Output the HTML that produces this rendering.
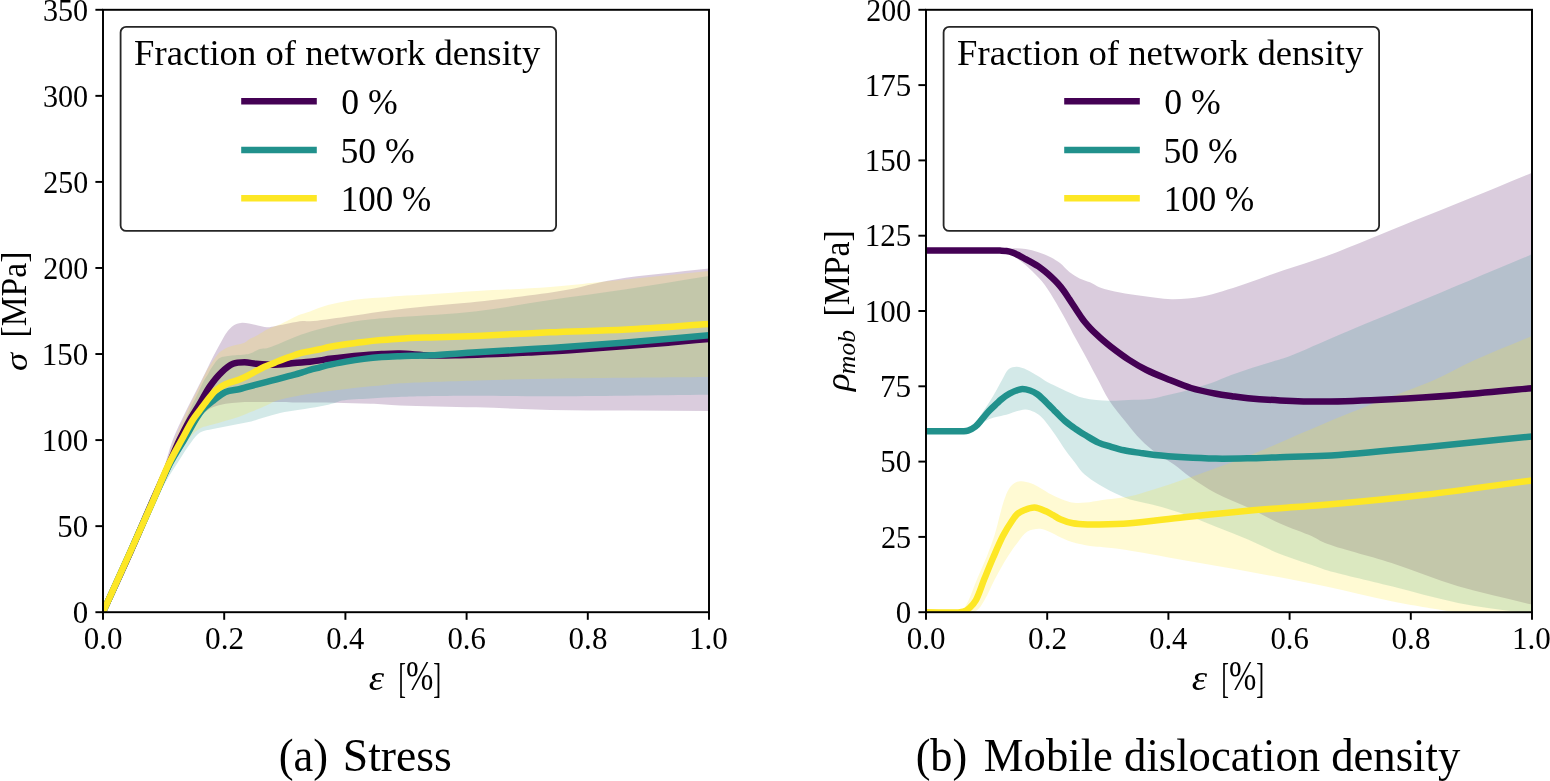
<!DOCTYPE html>
<html><head><meta charset="utf-8"><title>Stress and mobile dislocation density</title>
<style>html,body{margin:0;padding:0;background:#fff;width:1550px;height:781px;overflow:hidden}svg{display:block}</style>
</head><body>
<svg width="1550" height="781" viewBox="0 0 1550 781">
<rect width="100%" height="100%" fill="#fff"/>
<clipPath id="clip103"><rect x="103.00" y="9.60" width="606.00" height="602.60"/></clipPath>
<g clip-path="url(#clip103)">
<path d="M103.00,612.20 C111.33,592.80 119.93,572.76 128.00,554.00 C135.56,536.44 143.82,517.64 150.00,503.00 C154.65,492.00 158.32,484.14 162.00,474.00 C165.93,463.20 168.65,450.57 172.70,440.00 C176.40,430.36 180.87,421.60 185.00,413.00 C188.84,404.99 192.95,397.25 196.60,390.00 C199.87,383.50 202.92,377.49 205.90,371.50 C208.70,365.87 211.33,360.26 214.00,355.10 C216.43,350.41 218.84,345.93 221.20,341.80 C223.30,338.12 225.15,334.37 227.40,331.50 C229.30,329.07 231.17,326.84 233.50,325.40 C235.73,324.02 238.43,323.22 241.00,322.90 C243.59,322.58 246.28,323.09 249.00,323.50 C251.90,323.93 254.92,324.87 257.90,325.50 C260.89,326.13 263.89,327.22 266.90,327.30 C269.89,327.38 272.61,326.57 275.90,326.00 C279.93,325.30 284.83,324.12 289.30,323.30 C293.76,322.48 298.90,321.36 302.70,321.10 C305.49,320.91 306.65,321.46 310.00,321.30 C317.45,320.94 333.95,318.45 345.90,316.80 C357.85,315.15 368.86,313.09 381.70,311.40 C396.58,309.45 414.02,307.63 430.00,306.00 C445.72,304.40 458.99,303.65 476.80,301.70 C500.59,299.09 535.17,295.30 560.00,291.10 C580.39,287.65 594.36,282.83 615.30,279.40 C642.35,274.97 677.77,272.13 709.00,268.50 L709.00,411.10 C682.67,410.90 656.42,410.68 630.00,410.50 C603.42,410.32 576.07,410.56 550.00,410.00 C525.05,409.46 501.50,408.06 476.80,407.30 C451.51,406.52 419.63,406.17 400.00,405.40 C387.79,404.92 380.63,404.24 370.30,403.80 C359.04,403.32 346.74,402.92 335.00,402.70 C323.31,402.48 310.85,402.63 300.00,402.50 C290.58,402.38 280.22,402.06 273.60,402.00 C269.61,401.96 267.43,402.00 264.00,402.00 C260.04,402.00 255.47,401.93 251.20,402.00 C246.93,402.07 242.66,402.10 238.40,402.40 C234.13,402.70 229.84,402.99 225.60,403.80 C221.30,404.62 216.26,405.83 212.80,407.30 C210.21,408.40 208.56,409.37 206.40,411.10 C203.64,413.31 200.84,416.07 198.00,420.00 C193.76,425.86 189.41,436.21 185.00,444.00 C180.74,451.53 176.43,457.65 172.00,466.00 C166.48,476.42 161.21,488.84 155.00,502.00 C147.47,517.96 138.49,537.00 130.00,555.00 C121.17,573.70 112.00,593.13 103.00,612.20 Z" fill="#440154" fill-opacity="0.2" stroke="none"/>
<path d="M103.00,612.20 C111.33,592.80 119.93,572.76 128.00,554.00 C135.56,536.44 143.62,517.76 150.00,503.00 C154.89,491.68 158.67,483.00 163.00,473.00 C167.33,463.00 171.79,452.93 176.00,443.00 C180.12,433.27 184.02,422.95 188.00,414.00 C191.51,406.11 195.56,398.15 198.50,392.00 C200.63,387.55 202.21,383.76 204.00,380.50 C205.40,377.95 206.93,375.92 208.10,373.90 C209.06,372.24 209.68,370.81 210.60,369.30 C211.54,367.74 212.70,366.13 213.70,364.70 C214.59,363.42 215.40,362.16 216.30,361.10 C217.11,360.15 217.86,359.28 218.80,358.60 C219.73,357.92 220.65,357.41 221.90,357.00 C223.56,356.45 225.84,356.29 228.00,356.00 C230.41,355.68 233.01,355.44 235.70,355.20 C238.65,354.94 242.39,354.86 245.00,354.50 C246.93,354.24 248.09,354.12 250.00,353.50 C252.79,352.60 256.82,349.85 259.90,349.00 C262.38,348.31 264.45,348.76 266.90,348.20 C269.77,347.54 273.54,345.92 276.00,345.00 C277.71,344.36 278.47,344.05 280.30,343.30 C283.55,341.96 289.06,339.35 293.80,337.50 C298.92,335.50 303.69,333.71 310.00,331.80 C318.56,329.21 330.77,326.04 340.70,324.00 C349.89,322.12 358.11,320.92 367.50,319.80 C377.79,318.57 386.87,318.14 400.00,317.10 C420.18,315.50 451.56,314.20 476.80,311.30 C501.55,308.46 525.34,303.65 550.00,300.00 C575.13,296.28 600.29,293.09 626.20,289.20 C653.24,285.14 681.40,280.47 709.00,276.10 L709.00,394.80 C656.00,395.30 592.85,396.24 550.00,396.30 C520.93,396.34 499.65,395.78 476.80,395.80 C456.67,395.82 434.38,396.00 420.00,396.30 C411.19,396.48 406.31,396.69 398.70,397.00 C389.91,397.36 379.75,397.82 370.30,398.40 C360.85,398.98 348.27,399.24 342.00,400.50 C338.76,401.15 337.62,402.10 334.80,402.90 C330.90,404.00 325.90,405.17 320.70,406.20 C314.35,407.46 306.33,408.54 299.40,409.70 C292.78,410.81 286.12,411.62 280.00,413.00 C274.37,414.27 269.03,416.03 264.00,417.50 C259.49,418.82 255.49,420.33 251.20,421.40 C246.96,422.46 242.67,423.05 238.40,423.90 C234.13,424.75 229.87,425.65 225.60,426.50 C221.33,427.35 217.05,427.99 212.80,429.00 C208.51,430.02 203.61,430.37 200.00,432.60 C196.42,434.82 194.25,438.38 191.20,442.30 C187.15,447.50 182.62,454.96 178.40,461.50 C174.08,468.19 169.35,475.30 165.60,482.00 C162.17,488.11 160.33,492.28 156.60,500.00 C150.01,513.64 138.99,538.19 130.00,557.00 C121.12,575.59 112.00,593.80 103.00,612.20 Z" fill="#21918c" fill-opacity="0.2" stroke="none"/>
<path d="M103.00,612.20 C111.33,592.80 119.91,572.70 128.00,554.00 C135.54,536.56 143.65,518.23 150.00,503.50 C154.93,492.07 159.02,483.36 163.00,473.00 C167.02,462.53 170.05,451.24 174.00,441.00 C177.75,431.28 181.91,421.82 186.00,413.00 C189.76,404.90 194.39,396.36 197.50,390.00 C199.69,385.52 201.19,382.21 203.00,378.50 C204.72,374.99 206.55,371.00 208.10,368.30 C209.17,366.43 210.09,365.23 211.10,363.70 C212.12,362.16 213.20,360.53 214.20,359.10 C215.09,357.82 215.93,356.64 216.80,355.50 C217.63,354.42 218.32,353.32 219.30,352.40 C220.33,351.44 221.57,350.70 222.90,349.90 C224.42,348.99 226.09,348.07 228.00,347.30 C230.27,346.39 233.01,345.78 235.70,345.00 C238.65,344.15 242.63,343.57 245.00,342.40 C246.71,341.56 247.35,340.42 249.00,339.40 C251.33,337.97 254.96,336.61 257.90,335.00 C260.93,333.35 264.03,331.08 266.90,329.60 C269.36,328.33 271.69,327.42 274.00,326.50 C276.15,325.64 278.04,325.17 280.30,324.20 C283.06,323.01 286.30,321.20 289.30,319.70 C292.30,318.20 295.05,316.53 298.30,315.20 C301.89,313.73 305.70,312.86 310.00,311.40 C315.34,309.59 321.87,306.81 327.90,305.10 C333.84,303.42 339.89,302.25 345.90,301.20 C351.85,300.16 357.82,299.40 363.80,298.80 C369.76,298.20 375.73,298.05 381.70,297.60 C387.69,297.15 392.92,296.58 399.70,296.10 C408.49,295.47 418.81,295.02 430.00,294.30 C443.91,293.41 459.46,292.18 476.80,291.10 C498.48,289.75 528.77,288.64 550.00,287.00 C566.39,285.73 578.05,284.24 593.50,282.70 C611.10,280.94 630.96,278.91 650.00,277.00 C669.45,275.05 689.33,273.07 709.00,271.10 L709.00,377.00 C659.33,377.50 602.48,377.80 560.00,378.50 C528.25,379.02 503.98,379.58 476.80,380.40 C450.68,381.19 415.86,382.18 400.00,383.30 C392.86,383.80 390.44,384.30 384.50,384.90 C376.46,385.71 365.55,386.63 356.10,387.70 C346.65,388.77 337.24,390.00 327.80,391.30 C318.34,392.60 308.45,393.77 299.40,395.50 C290.98,397.11 280.12,399.51 275.20,401.20 C272.93,401.98 272.11,402.58 270.40,403.40 C268.41,404.35 266.53,405.46 264.00,406.60 C260.49,408.19 255.47,410.08 251.20,411.80 C246.94,413.52 242.70,415.41 238.40,416.90 C234.17,418.37 229.86,419.42 225.60,420.70 C221.33,421.98 217.07,423.32 212.80,424.60 C208.54,425.88 203.69,426.40 200.00,428.40 C196.57,430.26 193.96,432.86 191.20,435.90 C188.00,439.43 185.13,444.56 182.30,448.70 C179.65,452.57 177.22,455.84 174.70,460.00 C171.78,464.81 168.94,470.01 166.00,476.00 C162.40,483.34 159.45,491.06 155.00,501.00 C148.39,515.78 138.59,537.61 130.00,556.00 C121.27,574.68 112.00,593.47 103.00,612.20 Z" fill="#fde725" fill-opacity="0.2" stroke="none"/>
<path d="M103.00,612.20 C112.00,592.47 121.44,572.23 130.00,553.00 C138.06,534.88 146.11,515.63 153.00,500.00 C158.49,487.54 163.42,476.92 168.00,466.50 C171.98,457.44 175.23,449.03 179.00,441.00 C182.48,433.60 186.12,426.34 189.70,420.00 C192.79,414.51 195.81,410.31 199.00,405.00 C202.55,399.09 206.04,391.76 210.00,386.10 C213.59,380.97 217.42,376.15 221.50,372.30 C225.14,368.87 228.93,365.44 233.00,363.80 C236.68,362.32 240.74,362.30 244.60,362.30 C248.44,362.30 252.26,363.42 256.10,363.80 C259.93,364.18 263.76,364.47 267.60,364.60 C271.43,364.73 274.99,364.81 279.10,364.60 C283.87,364.35 289.36,363.48 294.50,363.00 C299.63,362.52 305.31,362.19 309.90,361.70 C313.63,361.30 316.65,360.88 320.00,360.40 C323.35,359.92 326.28,359.32 330.00,358.80 C334.68,358.15 340.44,357.47 345.90,356.90 C351.69,356.30 357.83,355.77 363.80,355.30 C369.76,354.83 375.72,354.38 381.70,354.10 C387.69,353.82 392.93,353.49 399.70,353.60 C408.50,353.74 419.92,355.13 430.00,355.40 C440.02,355.66 449.49,355.39 460.00,355.20 C471.64,354.99 484.85,354.57 496.80,354.10 C508.15,353.66 518.42,353.11 530.00,352.50 C542.71,351.83 555.54,351.16 570.00,350.20 C587.15,349.07 608.63,347.36 626.20,346.00 C641.71,344.80 655.83,343.72 670.00,342.50 C683.38,341.35 696.00,340.10 709.00,338.90" fill="none" stroke="#440154" stroke-width="6.50" stroke-linejoin="round" stroke-linecap="butt"/>
<path d="M103.00,612.20 C112.00,592.30 121.35,571.77 130.00,552.50 C138.10,534.45 146.24,515.90 153.40,500.00 C159.38,486.72 164.40,474.20 170.00,463.50 C174.62,454.66 179.03,448.27 184.00,440.00 C189.58,430.71 196.06,417.39 201.90,410.50 C205.76,405.95 209.35,403.78 213.30,400.70 C217.25,397.61 221.12,393.95 225.60,392.00 C230.03,390.07 235.08,390.18 240.00,389.00 C245.24,387.74 250.79,386.00 256.10,384.60 C261.28,383.24 266.38,382.03 271.50,380.70 C276.61,379.37 282.40,377.74 286.80,376.60 C290.13,375.74 292.89,375.15 295.60,374.40 C297.97,373.75 299.91,373.11 302.20,372.40 C304.69,371.62 307.22,370.69 310.00,369.90 C313.11,369.01 316.87,368.23 320.00,367.40 C322.79,366.66 324.72,365.96 327.90,365.20 C332.67,364.06 339.90,362.65 345.90,361.60 C351.86,360.55 357.82,359.65 363.80,358.90 C369.76,358.15 375.72,357.55 381.70,357.10 C387.69,356.65 392.92,356.47 399.70,356.20 C408.49,355.85 418.81,355.84 430.00,355.30 C443.92,354.63 459.46,353.27 476.80,352.20 C498.48,350.86 525.36,349.60 550.00,348.00 C575.15,346.37 600.28,344.58 626.20,342.50 C653.24,340.33 681.40,337.63 709.00,335.20" fill="none" stroke="#21918c" stroke-width="6.50" stroke-linejoin="round" stroke-linecap="butt"/>
<path d="M103.00,612.20 C112.00,592.30 121.35,571.77 130.00,552.50 C138.10,534.45 146.47,515.88 153.40,500.00 C159.12,486.90 163.67,474.69 168.80,464.00 C173.07,455.09 177.45,447.62 181.60,440.00 C185.40,433.01 189.29,425.36 192.70,420.00 C195.15,416.16 197.26,413.68 199.60,410.50 C201.99,407.25 204.79,403.42 206.90,400.70 C208.44,398.71 209.57,397.28 211.00,395.60 C212.47,393.88 213.63,392.15 215.60,390.50 C218.18,388.34 221.85,386.08 225.60,384.30 C229.86,382.27 235.14,381.36 240.00,379.30 C245.29,377.06 251.69,373.48 256.10,371.20 C259.21,369.59 261.36,368.20 264.00,367.00 C266.50,365.86 269.10,365.10 271.50,364.10 C273.76,363.16 275.65,362.16 278.00,361.20 C280.70,360.09 283.91,358.95 286.80,357.90 C289.58,356.89 292.35,355.89 295.00,355.00 C297.47,354.17 299.24,353.46 302.20,352.70 C306.79,351.52 315.26,350.23 320.00,349.20 C323.17,348.51 324.72,347.96 327.90,347.30 C332.67,346.32 339.90,345.10 345.90,344.20 C351.87,343.30 357.83,342.58 363.80,341.90 C369.76,341.22 375.72,340.63 381.70,340.10 C387.69,339.57 392.92,339.11 399.70,338.70 C408.49,338.17 418.81,337.82 430.00,337.40 C443.91,336.88 459.47,336.60 476.80,335.90 C498.49,335.02 525.35,333.36 550.00,332.30 C575.14,331.22 600.28,330.84 626.20,329.50 C653.24,328.11 681.40,325.83 709.00,324.00" fill="none" stroke="#fde725" stroke-width="6.50" stroke-linejoin="round" stroke-linecap="butt"/>
</g>
<clipPath id="clip926"><rect x="926.00" y="9.60" width="606.00" height="602.60"/></clipPath>
<g clip-path="url(#clip926)">
<path d="M926.00,250.60 C952.67,250.60 994.03,252.49 1006.00,250.60 C1009.58,250.04 1010.14,248.76 1012.80,248.40 C1016.36,247.92 1021.36,248.38 1025.60,249.00 C1029.90,249.63 1034.18,250.82 1038.40,252.20 C1042.72,253.61 1047.41,255.43 1051.20,257.40 C1054.50,259.12 1057.12,260.84 1060.00,263.10 C1063.20,265.62 1066.07,269.42 1069.40,272.00 C1072.61,274.49 1076.09,276.66 1079.60,278.40 C1082.97,280.07 1086.61,280.79 1090.00,282.30 C1093.41,283.82 1095.99,285.98 1100.00,287.50 C1105.43,289.56 1113.22,291.12 1120.00,292.50 C1126.88,293.90 1133.32,294.77 1141.00,295.80 C1150.25,297.04 1161.46,299.08 1171.70,299.20 C1181.93,299.32 1191.54,298.55 1202.40,296.50 C1215.19,294.09 1229.80,288.90 1243.40,284.50 C1257.10,280.07 1270.63,274.67 1284.30,270.00 C1297.93,265.34 1311.41,261.53 1325.30,256.50 C1339.96,251.19 1355.14,244.80 1370.00,238.80 C1384.87,232.80 1398.83,226.87 1414.50,220.50 C1431.97,213.40 1451.00,205.92 1470.00,198.20 C1490.11,190.02 1511.33,181.20 1532.00,172.70 L1532.00,604.60 C1507.37,598.50 1481.92,593.41 1458.10,586.30 C1435.18,579.46 1413.86,570.24 1391.60,563.00 C1369.49,555.81 1338.46,548.43 1325.00,543.00 C1318.83,540.51 1317.36,538.75 1312.00,536.30 C1303.76,532.54 1290.57,528.23 1280.00,523.50 C1269.24,518.68 1258.72,512.67 1248.00,507.60 C1237.38,502.57 1225.91,498.49 1216.00,493.20 C1206.81,488.29 1197.87,482.41 1190.40,477.20 C1184.21,472.88 1179.72,468.56 1174.00,464.50 C1168.10,460.31 1161.15,456.75 1155.50,452.50 C1150.25,448.55 1145.85,444.81 1141.10,440.00 C1135.67,434.50 1130.28,427.57 1125.00,421.00 C1119.55,414.22 1113.69,407.30 1108.90,399.90 C1104.12,392.50 1100.46,384.36 1096.30,376.60 C1092.16,368.89 1087.92,360.70 1084.00,353.50 C1080.52,347.11 1076.81,340.71 1074.00,335.50 C1071.87,331.55 1070.39,328.53 1068.50,325.00 C1066.56,321.37 1064.52,317.61 1062.50,314.00 C1060.52,310.45 1058.52,306.95 1056.50,303.50 C1054.52,300.12 1052.51,296.67 1050.50,293.50 C1048.61,290.53 1046.84,287.68 1044.80,285.00 C1042.80,282.38 1040.57,279.97 1038.40,277.60 C1036.30,275.31 1034.16,273.12 1032.00,271.00 C1029.89,268.93 1027.78,266.86 1025.60,265.00 C1023.51,263.21 1021.37,261.55 1019.20,260.00 C1017.10,258.49 1014.94,257.32 1012.80,255.80 C1010.54,254.20 1009.86,251.91 1006.00,250.60 C994.21,246.61 952.67,250.60 926.00,250.60 Z" fill="#440154" fill-opacity="0.2" stroke="none"/>
<path d="M926.00,431.20 C938.00,431.20 953.85,432.00 962.00,431.20 C966.25,430.78 968.79,431.22 971.60,429.30 C975.27,426.79 977.69,419.65 980.60,415.20 C983.24,411.16 985.78,407.67 988.30,403.70 C990.92,399.58 993.59,395.08 996.00,390.90 C998.27,386.96 1000.21,383.01 1002.40,379.30 C1004.48,375.76 1006.11,371.15 1008.80,369.10 C1011.00,367.43 1013.75,366.82 1016.50,366.80 C1019.66,366.78 1023.37,368.31 1026.70,369.70 C1030.21,371.16 1033.60,373.48 1037.00,375.50 C1040.43,377.54 1043.98,380.11 1047.20,381.90 C1049.93,383.42 1052.19,384.34 1055.00,385.70 C1058.31,387.30 1061.71,389.10 1065.80,390.90 C1071.00,393.19 1077.18,396.45 1083.80,398.10 C1091.36,399.98 1101.03,400.56 1108.90,400.80 C1115.86,401.01 1121.90,400.19 1128.60,399.90 C1135.59,399.59 1143.21,399.89 1150.00,399.00 C1156.30,398.17 1162.02,396.39 1168.00,395.00 C1173.96,393.62 1179.36,392.45 1185.80,390.70 C1193.59,388.59 1203.40,385.80 1211.40,383.00 C1218.67,380.46 1225.04,377.36 1231.90,374.80 C1238.70,372.26 1245.54,369.92 1252.40,367.70 C1259.21,365.49 1266.38,363.53 1272.90,361.50 C1278.87,359.64 1282.88,358.66 1290.00,356.00 C1302.38,351.37 1321.66,342.34 1340.00,334.60 C1362.34,325.17 1386.86,315.15 1414.50,303.60 C1449.23,289.09 1492.83,270.73 1532.00,254.30 L1532.00,614.00 C1507.37,610.30 1481.97,607.66 1458.10,602.90 C1435.24,598.34 1413.78,591.83 1391.60,586.30 C1369.41,580.76 1338.55,573.77 1325.00,569.70 C1318.93,567.87 1317.30,566.96 1312.00,565.10 C1303.70,562.19 1290.57,558.22 1280.00,554.00 C1269.23,549.70 1258.72,544.07 1248.00,539.50 C1237.38,534.97 1226.67,530.95 1216.00,526.70 C1205.34,522.45 1194.75,517.74 1184.00,514.00 C1173.41,510.32 1161.71,506.96 1152.00,504.40 C1144.02,502.30 1136.60,501.50 1130.00,499.40 C1124.33,497.59 1120.02,495.63 1114.60,493.00 C1108.17,489.87 1099.91,485.38 1094.10,481.50 C1089.40,478.36 1085.37,475.45 1082.00,472.00 C1078.96,468.89 1077.09,465.40 1074.50,462.00 C1071.77,458.41 1068.53,454.53 1066.00,451.00 C1063.77,447.89 1061.90,444.88 1060.00,442.00 C1058.25,439.36 1056.81,437.02 1055.00,434.40 C1053.00,431.51 1050.71,428.25 1048.50,425.40 C1046.40,422.70 1044.48,419.95 1042.10,417.70 C1039.77,415.50 1037.20,413.39 1034.40,412.00 C1031.63,410.63 1028.41,409.51 1025.40,409.40 C1022.44,409.29 1019.34,410.52 1016.50,411.30 C1013.82,412.04 1011.57,413.08 1008.80,413.90 C1005.63,414.83 1001.80,415.62 998.50,416.50 C995.42,417.32 992.50,417.79 989.60,419.00 C986.53,420.28 983.84,422.18 980.60,424.10 C976.69,426.41 971.35,431.25 967.80,432.00 C965.59,432.47 964.77,431.39 962.00,431.20 C955.14,430.73 938.00,431.20 926.00,431.20 Z" fill="#21918c" fill-opacity="0.2" stroke="none"/>
<path d="M926.00,612.20 C936.67,612.20 952.06,613.70 958.00,612.20 C960.51,611.57 961.46,610.96 963.00,609.50 C965.11,607.49 966.70,604.11 968.60,600.30 C971.39,594.72 974.23,585.95 977.20,578.80 C980.19,571.61 983.62,564.51 986.50,557.30 C989.35,550.17 992.12,543.02 994.40,535.80 C996.64,528.69 998.36,520.67 1000.10,514.30 C1001.50,509.19 1002.41,504.93 1004.00,500.50 C1005.55,496.17 1007.24,491.16 1009.50,488.00 C1011.25,485.56 1013.33,483.62 1015.50,482.50 C1017.40,481.52 1019.35,481.19 1021.60,481.20 C1024.38,481.22 1027.80,482.19 1030.90,483.30 C1034.29,484.51 1037.73,486.55 1041.10,488.40 C1044.56,490.30 1047.66,492.67 1051.40,494.60 C1055.55,496.74 1060.88,499.09 1065.00,500.50 C1068.26,501.62 1070.76,502.42 1074.00,502.80 C1077.69,503.23 1081.79,502.97 1086.00,502.60 C1090.74,502.18 1095.18,501.06 1101.00,500.20 C1109.08,499.01 1121.06,498.17 1130.00,496.30 C1137.90,494.65 1143.68,492.58 1152.00,490.00 C1163.06,486.57 1176.35,482.13 1190.40,477.20 C1207.70,471.13 1227.52,464.13 1248.00,456.00 C1271.92,446.51 1300.21,433.43 1325.00,423.20 C1347.95,413.73 1371.86,404.41 1391.60,396.60 C1407.37,390.36 1420.29,386.02 1434.20,379.90 C1448.02,373.81 1460.00,366.72 1474.80,360.00 C1492.13,352.12 1512.93,344.00 1532.00,336.00 L1532.00,630.00 C1508.00,624.33 1473.91,615.69 1460.00,613.00 C1454.39,611.92 1453.53,612.09 1448.10,611.20 C1436.24,609.26 1411.16,605.21 1391.60,601.30 C1370.26,597.03 1348.04,591.11 1325.00,586.30 C1300.30,581.15 1272.50,576.00 1248.00,571.50 C1225.70,567.41 1205.33,564.03 1184.00,560.30 C1162.67,556.57 1135.49,551.31 1120.00,549.10 C1111.23,547.85 1104.84,547.38 1099.30,546.80 C1095.59,546.41 1093.59,546.46 1090.00,545.90 C1084.96,545.11 1077.30,543.62 1072.00,542.00 C1067.62,540.66 1064.04,539.01 1060.30,537.30 C1056.72,535.66 1053.44,533.46 1050.00,532.00 C1046.77,530.63 1043.79,528.90 1040.30,528.70 C1036.33,528.47 1031.13,529.30 1027.40,531.50 C1023.38,533.87 1020.55,538.86 1017.30,543.00 C1013.83,547.42 1010.67,551.96 1007.30,557.30 C1003.29,563.66 998.94,571.58 995.10,578.80 C991.31,585.92 988.05,594.52 984.40,600.30 C981.65,604.65 979.81,608.97 976.00,611.00 C971.86,613.21 966.33,611.96 960.00,612.20 C950.78,612.55 937.33,612.20 926.00,612.20 Z" fill="#fde725" fill-opacity="0.2" stroke="none"/>
<path d="M926.00,250.60 C950.67,250.60 988.79,250.25 1000.00,250.60 C1003.30,250.70 1004.28,250.67 1006.40,251.00 C1008.55,251.33 1010.70,251.85 1012.80,252.60 C1014.97,253.37 1017.08,254.53 1019.20,255.60 C1021.35,256.69 1023.47,257.93 1025.60,259.10 C1027.73,260.27 1029.88,261.39 1032.00,262.60 C1034.14,263.82 1036.31,264.98 1038.40,266.40 C1040.58,267.87 1042.69,269.58 1044.80,271.30 C1046.96,273.07 1049.10,274.93 1051.20,276.90 C1053.37,278.93 1055.56,281.05 1057.60,283.30 C1059.67,285.58 1061.58,287.93 1063.50,290.50 C1065.56,293.26 1067.51,296.40 1069.50,299.40 C1071.51,302.43 1073.53,305.61 1075.50,308.60 C1077.39,311.47 1079.38,314.54 1081.10,317.00 C1082.49,318.99 1083.57,320.54 1085.00,322.30 C1086.52,324.18 1088.23,326.03 1090.00,327.90 C1091.88,329.89 1093.90,331.89 1096.00,333.90 C1098.22,336.02 1100.58,338.21 1103.00,340.30 C1105.48,342.44 1107.56,344.18 1110.70,346.60 C1115.39,350.21 1122.53,355.65 1128.60,359.60 C1134.47,363.42 1140.02,366.75 1146.50,370.00 C1153.70,373.61 1162.36,376.92 1170.00,380.00 C1177.17,382.89 1183.61,385.75 1191.00,388.00 C1198.89,390.41 1208.57,392.38 1216.00,393.80 C1221.90,394.93 1226.66,395.47 1232.00,396.20 C1237.33,396.93 1241.74,397.59 1248.00,398.20 C1256.83,399.05 1268.42,399.85 1280.00,400.40 C1293.72,401.05 1308.54,401.66 1325.00,401.60 C1345.03,401.52 1369.42,400.42 1391.60,399.30 C1413.78,398.18 1435.36,396.68 1458.10,394.90 C1482.09,393.02 1507.37,390.43 1532.00,388.20" fill="none" stroke="#440154" stroke-width="6.50" stroke-linejoin="round" stroke-linecap="butt"/>
<path d="M926.00,431.20 C938.00,431.20 955.05,431.55 962.00,431.20 C964.85,431.06 965.95,431.23 968.00,430.60 C970.44,429.85 973.19,428.33 975.50,426.50 C978.06,424.47 980.23,421.31 982.50,418.70 C984.73,416.14 986.63,413.51 989.00,411.00 C991.51,408.34 994.98,405.30 997.20,403.20 C998.71,401.77 999.42,400.88 1001.00,399.60 C1003.22,397.80 1006.34,395.38 1009.50,393.70 C1012.95,391.86 1017.35,389.62 1021.00,389.20 C1024.13,388.84 1027.21,389.63 1030.00,390.50 C1032.66,391.33 1035.19,392.70 1037.40,394.20 C1039.50,395.63 1041.16,397.48 1043.00,399.20 C1044.86,400.94 1046.67,402.78 1048.50,404.60 C1050.34,406.44 1052.17,408.33 1054.00,410.20 C1055.83,412.07 1057.65,413.98 1059.50,415.80 C1061.32,417.58 1063.12,419.38 1065.00,421.00 C1066.82,422.57 1068.76,424.03 1070.60,425.40 C1072.32,426.68 1073.99,427.82 1075.70,429.00 C1077.42,430.18 1079.20,431.42 1080.90,432.50 C1082.49,433.51 1083.64,434.16 1085.60,435.30 C1088.81,437.17 1094.03,440.66 1098.40,442.60 C1102.58,444.45 1106.92,445.51 1111.20,446.80 C1115.45,448.08 1119.47,449.32 1124.00,450.30 C1129.01,451.39 1134.75,452.11 1140.00,452.90 C1145.08,453.67 1149.17,454.36 1155.00,455.00 C1163.08,455.88 1174.09,456.71 1184.00,457.30 C1194.40,457.92 1205.33,458.43 1216.00,458.60 C1226.66,458.77 1237.33,458.53 1248.00,458.30 C1258.67,458.07 1268.43,457.58 1280.00,457.20 C1293.72,456.75 1307.07,456.85 1325.00,455.80 C1351.75,454.23 1390.95,450.36 1424.80,447.20 C1459.91,443.92 1496.27,440.00 1532.00,436.40" fill="none" stroke="#21918c" stroke-width="6.50" stroke-linejoin="round" stroke-linecap="butt"/>
<path d="M926.00,612.20 C937.33,612.20 953.33,613.07 960.00,612.20 C962.85,611.83 964.27,611.45 966.00,610.60 C967.56,609.83 968.63,608.85 970.00,607.50 C971.86,605.68 973.91,603.52 975.80,600.30 C978.78,595.20 981.49,585.96 984.40,578.80 C987.32,571.62 990.21,564.44 993.30,557.30 C996.41,550.11 999.67,542.15 1003.00,535.80 C1005.80,530.46 1008.93,525.44 1011.60,521.50 C1013.61,518.54 1015.06,515.94 1017.30,514.00 C1019.40,512.18 1021.83,511.06 1024.50,510.00 C1027.49,508.82 1031.07,507.37 1034.50,507.50 C1038.22,507.64 1042.67,509.86 1046.00,511.30 C1048.74,512.48 1050.81,513.88 1053.20,515.20 C1055.58,516.52 1057.52,517.98 1060.30,519.20 C1063.86,520.76 1068.40,522.41 1073.00,523.30 C1078.20,524.31 1085.18,524.33 1090.00,524.50 C1093.56,524.63 1095.30,524.58 1099.30,524.50 C1106.57,524.35 1118.35,524.09 1130.00,523.20 C1145.49,522.01 1165.23,519.18 1184.00,517.20 C1204.42,515.04 1230.32,512.40 1248.00,510.80 C1260.49,509.67 1268.42,509.11 1280.00,508.20 C1293.72,507.12 1307.06,506.38 1325.00,504.80 C1351.74,502.45 1390.97,498.77 1424.80,494.80 C1459.93,490.68 1496.27,485.20 1532.00,480.40" fill="none" stroke="#fde725" stroke-width="6.50" stroke-linejoin="round" stroke-linecap="butt"/>
</g>
<g stroke="#000" stroke-width="1.95" fill="none" stroke-linecap="square">
<rect x="103.00" y="9.80" width="606.00" height="602.40" stroke-linejoin="miter"/>
</g><g stroke="#000" stroke-width="1.95">
<line x1="95.40" y1="612.20" x2="103.00" y2="612.20"/>
<line x1="95.40" y1="526.14" x2="103.00" y2="526.14"/>
<line x1="95.40" y1="440.09" x2="103.00" y2="440.09"/>
<line x1="95.40" y1="354.03" x2="103.00" y2="354.03"/>
<line x1="95.40" y1="267.97" x2="103.00" y2="267.97"/>
<line x1="95.40" y1="181.91" x2="103.00" y2="181.91"/>
<line x1="95.40" y1="95.86" x2="103.00" y2="95.86"/>
<line x1="95.40" y1="9.80" x2="103.00" y2="9.80"/>
<line x1="103.00" y1="612.20" x2="103.00" y2="619.80"/>
<line x1="224.20" y1="612.20" x2="224.20" y2="619.80"/>
<line x1="345.40" y1="612.20" x2="345.40" y2="619.80"/>
<line x1="466.60" y1="612.20" x2="466.60" y2="619.80"/>
<line x1="587.80" y1="612.20" x2="587.80" y2="619.80"/>
<line x1="709.00" y1="612.20" x2="709.00" y2="619.80"/>
</g>
<g stroke="#000" stroke-width="1.95" fill="none" stroke-linecap="square">
<rect x="926.00" y="9.80" width="606.00" height="602.40" stroke-linejoin="miter"/>
</g><g stroke="#000" stroke-width="1.95">
<line x1="918.40" y1="612.20" x2="926.00" y2="612.20"/>
<line x1="918.40" y1="536.90" x2="926.00" y2="536.90"/>
<line x1="918.40" y1="461.60" x2="926.00" y2="461.60"/>
<line x1="918.40" y1="386.30" x2="926.00" y2="386.30"/>
<line x1="918.40" y1="311.00" x2="926.00" y2="311.00"/>
<line x1="918.40" y1="235.70" x2="926.00" y2="235.70"/>
<line x1="918.40" y1="160.40" x2="926.00" y2="160.40"/>
<line x1="918.40" y1="85.10" x2="926.00" y2="85.10"/>
<line x1="918.40" y1="9.80" x2="926.00" y2="9.80"/>
<line x1="926.00" y1="612.20" x2="926.00" y2="619.80"/>
<line x1="1047.20" y1="612.20" x2="1047.20" y2="619.80"/>
<line x1="1168.40" y1="612.20" x2="1168.40" y2="619.80"/>
<line x1="1289.60" y1="612.20" x2="1289.60" y2="619.80"/>
<line x1="1410.80" y1="612.20" x2="1410.80" y2="619.80"/>
<line x1="1532.00" y1="612.20" x2="1532.00" y2="619.80"/>
</g>
<g font-family='"Liberation Serif", "DejaVu Serif", serif' fill="#000">
<text x="72.76" y="623.10" font-size="31.50" font-style="normal" textLength="15.48" lengthAdjust="spacingAndGlyphs">0</text>
<text x="57.35" y="537.01" font-size="31.50" font-style="normal" textLength="30.89" lengthAdjust="spacingAndGlyphs">50</text>
<text x="41.71" y="450.93" font-size="31.50" font-style="normal" textLength="46.53" lengthAdjust="spacingAndGlyphs">100</text>
<text x="41.71" y="364.84" font-size="31.50" font-style="normal" textLength="46.53" lengthAdjust="spacingAndGlyphs">150</text>
<text x="43.30" y="278.76" font-size="31.50" font-style="normal" textLength="44.89" lengthAdjust="spacingAndGlyphs">200</text>
<text x="43.30" y="192.67" font-size="31.50" font-style="normal" textLength="44.89" lengthAdjust="spacingAndGlyphs">250</text>
<text x="42.99" y="106.59" font-size="31.50" font-style="normal" textLength="45.21" lengthAdjust="spacingAndGlyphs">300</text>
<text x="42.99" y="20.50" font-size="31.50" font-style="normal" textLength="45.21" lengthAdjust="spacingAndGlyphs">350</text>
<text x="895.76" y="623.10" font-size="31.50" font-style="normal" textLength="15.48" lengthAdjust="spacingAndGlyphs">0</text>
<text x="880.99" y="547.77" font-size="31.50" font-style="normal" textLength="30.22" lengthAdjust="spacingAndGlyphs">25</text>
<text x="880.35" y="472.45" font-size="31.50" font-style="normal" textLength="30.89" lengthAdjust="spacingAndGlyphs">50</text>
<text x="880.01" y="397.12" font-size="31.50" font-style="normal" textLength="31.24" lengthAdjust="spacingAndGlyphs">75</text>
<text x="864.71" y="321.80" font-size="31.50" font-style="normal" textLength="46.53" lengthAdjust="spacingAndGlyphs">100</text>
<text x="864.71" y="246.48" font-size="31.50" font-style="normal" textLength="46.53" lengthAdjust="spacingAndGlyphs">125</text>
<text x="864.71" y="171.15" font-size="31.50" font-style="normal" textLength="46.53" lengthAdjust="spacingAndGlyphs">150</text>
<text x="864.71" y="95.83" font-size="31.50" font-style="normal" textLength="46.53" lengthAdjust="spacingAndGlyphs">175</text>
<text x="866.30" y="20.50" font-size="31.50" font-style="normal" textLength="44.89" lengthAdjust="spacingAndGlyphs">200</text>
<text x="83.81" y="648.90" font-size="31.50" font-style="normal" textLength="38.78" lengthAdjust="spacingAndGlyphs">0.0</text>
<text x="205.00" y="648.90" font-size="31.50" font-style="normal" textLength="39.12" lengthAdjust="spacingAndGlyphs">0.2</text>
<text x="326.23" y="648.90" font-size="31.50" font-style="normal" textLength="38.13" lengthAdjust="spacingAndGlyphs">0.4</text>
<text x="447.42" y="648.90" font-size="31.50" font-style="normal" textLength="38.45" lengthAdjust="spacingAndGlyphs">0.6</text>
<text x="568.61" y="648.90" font-size="31.50" font-style="normal" textLength="38.78" lengthAdjust="spacingAndGlyphs">0.8</text>
<text x="689.00" y="648.90" font-size="31.50" font-style="normal" textLength="38.84" lengthAdjust="spacingAndGlyphs">1.0</text>
<text x="906.81" y="648.90" font-size="31.50" font-style="normal" textLength="38.78" lengthAdjust="spacingAndGlyphs">0.0</text>
<text x="1028.00" y="648.90" font-size="31.50" font-style="normal" textLength="39.12" lengthAdjust="spacingAndGlyphs">0.2</text>
<text x="1149.23" y="648.90" font-size="31.50" font-style="normal" textLength="38.13" lengthAdjust="spacingAndGlyphs">0.4</text>
<text x="1270.42" y="648.90" font-size="31.50" font-style="normal" textLength="38.45" lengthAdjust="spacingAndGlyphs">0.6</text>
<text x="1391.61" y="648.90" font-size="31.50" font-style="normal" textLength="38.78" lengthAdjust="spacingAndGlyphs">0.8</text>
<text x="1512.00" y="648.90" font-size="31.50" font-style="normal" textLength="38.84" lengthAdjust="spacingAndGlyphs">1.0</text>
<rect x="120.60" y="26.90" width="435.50" height="204.00" rx="5.5" ry="5.5" fill="#fff" stroke="#262626" stroke-width="1.8"/>
<text x="134.10" y="64.80" font-size="36.00" font-style="normal" textLength="406.24" lengthAdjust="spacingAndGlyphs">Fraction of network density</text>
<line x1="241.20" y1="101.30" x2="316.80" y2="101.30" stroke="#440154" stroke-width="6.50"/>
<line x1="241.20" y1="149.90" x2="316.80" y2="149.90" stroke="#21918c" stroke-width="6.50"/>
<line x1="241.20" y1="198.30" x2="316.80" y2="198.30" stroke="#fde725" stroke-width="6.50"/>
<text x="341.27" y="113.60" font-size="36.00" font-style="normal" textLength="56.41" lengthAdjust="spacingAndGlyphs">0 %</text>
<text x="340.47" y="162.60" font-size="36.00" font-style="normal" textLength="74.11" lengthAdjust="spacingAndGlyphs">50 %</text>
<text x="340.85" y="211.00" font-size="36.00" font-style="normal" textLength="90.41" lengthAdjust="spacingAndGlyphs">100 %</text>
<rect x="943.60" y="26.90" width="435.50" height="204.00" rx="5.5" ry="5.5" fill="#fff" stroke="#262626" stroke-width="1.8"/>
<text x="957.10" y="64.80" font-size="36.00" font-style="normal" textLength="406.24" lengthAdjust="spacingAndGlyphs">Fraction of network density</text>
<line x1="1064.20" y1="101.30" x2="1139.80" y2="101.30" stroke="#440154" stroke-width="6.50"/>
<line x1="1064.20" y1="149.90" x2="1139.80" y2="149.90" stroke="#21918c" stroke-width="6.50"/>
<line x1="1064.20" y1="198.30" x2="1139.80" y2="198.30" stroke="#fde725" stroke-width="6.50"/>
<text x="1164.27" y="113.60" font-size="36.00" font-style="normal" textLength="56.41" lengthAdjust="spacingAndGlyphs">0 %</text>
<text x="1163.47" y="162.60" font-size="36.00" font-style="normal" textLength="74.11" lengthAdjust="spacingAndGlyphs">50 %</text>
<text x="1163.85" y="211.00" font-size="36.00" font-style="normal" textLength="90.41" lengthAdjust="spacingAndGlyphs">100 %</text>
<text x="368.82" y="689.75" font-size="35.21" font-style="italic" textLength="15.34" lengthAdjust="spacingAndGlyphs">ε</text>
<text x="398.45" y="692.43" font-size="42.05" font-style="normal" textLength="7.39" lengthAdjust="spacingAndGlyphs">[</text>
<text x="406.01" y="690.37" font-size="41.47" font-style="normal" textLength="27.37" lengthAdjust="spacingAndGlyphs">%</text>
<text x="433.25" y="692.43" font-size="42.05" font-style="normal" textLength="7.87" lengthAdjust="spacingAndGlyphs">]</text>
<text x="1191.82" y="689.75" font-size="35.21" font-style="italic" textLength="15.34" lengthAdjust="spacingAndGlyphs">ε</text>
<text x="1221.45" y="692.43" font-size="42.05" font-style="normal" textLength="7.39" lengthAdjust="spacingAndGlyphs">[</text>
<text x="1229.01" y="690.37" font-size="41.47" font-style="normal" textLength="27.37" lengthAdjust="spacingAndGlyphs">%</text>
<text x="1256.25" y="692.43" font-size="42.05" font-style="normal" textLength="7.87" lengthAdjust="spacingAndGlyphs">]</text>
<text x="278.82" y="771.20" font-size="45.50" font-style="normal" textLength="49.36" lengthAdjust="spacingAndGlyphs">(a)</text>
<text x="342.80" y="771.20" font-size="45.50" font-style="normal" textLength="109.09" lengthAdjust="spacingAndGlyphs">Stress</text>
<text x="915.63" y="771.00" font-size="45.50" font-style="normal" textLength="51.61" lengthAdjust="spacingAndGlyphs">(b)</text>
<text x="983.86" y="771.00" font-size="45.50" font-style="normal" textLength="476.39" lengthAdjust="spacingAndGlyphs">Mobile dislocation density</text>
<text transform="translate(26.59,371.00) rotate(-90)" x="0" y="0" font-size="30.57" font-style="italic" textLength="18.12" lengthAdjust="spacingAndGlyphs">σ</text>
<text transform="translate(25.86,337.45) rotate(-90)" x="0" y="0" font-size="35.66" font-style="normal" textLength="85.78" lengthAdjust="spacingAndGlyphs">[MPa]</text>
<text transform="translate(849.27,390.96) rotate(-90)" x="0" y="0" font-size="33.97" font-style="italic" textLength="17.67" lengthAdjust="spacingAndGlyphs">ρ</text>
<text transform="translate(854.84,374.13) rotate(-90)" x="0" y="0" font-size="25.57" font-style="italic" textLength="44.15" lengthAdjust="spacingAndGlyphs">mob</text>
<text transform="translate(848.86,316.46) rotate(-90)" x="0" y="0" font-size="35.66" font-style="normal" textLength="86.20" lengthAdjust="spacingAndGlyphs">[MPa]</text>
</g>
</svg>
</body></html>
